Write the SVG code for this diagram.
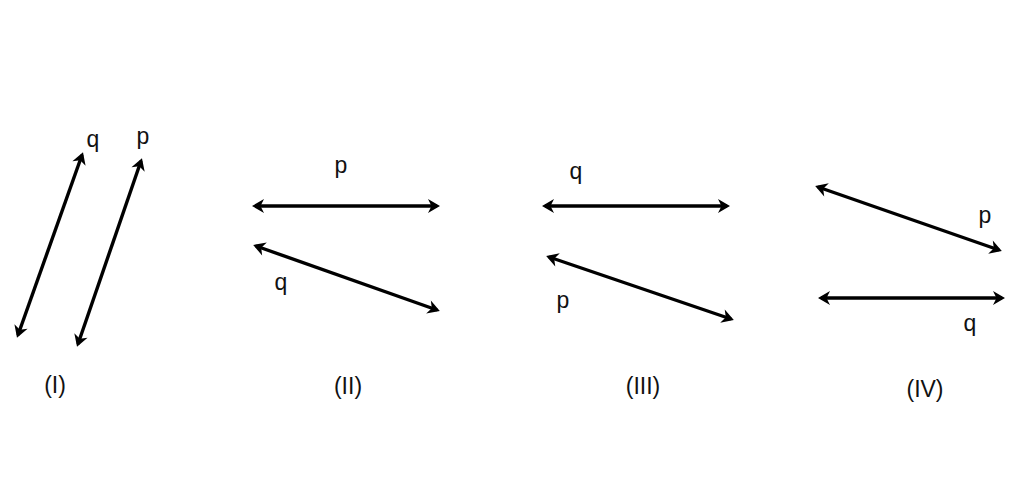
<svg xmlns="http://www.w3.org/2000/svg" width="1024" height="502" viewBox="0 0 1024 502">
<defs>
<style>
.ln{stroke:#000;stroke-width:3.4;fill:none;marker-start:url(#ah);marker-end:url(#ah)}
.lb{font-family:"Liberation Sans",Arial,sans-serif;font-size:23px;fill:#111;text-anchor:middle}
</style>
<marker id="ah" markerUnits="userSpaceOnUse" viewBox="-13 -8 14 16" markerWidth="14" markerHeight="16" refX="-3" refY="0" orient="auto-start-reverse">
<path d="M0,0 L-12,-7 L-8.5,0 L-12,7 Z" fill="#000"/>
</marker>
</defs>
<rect width="1024" height="502" fill="#fff"/>
<g id="connectors">
<line class="ln" x1="18" y1="335" x2="82" y2="155"/>
<line class="ln" x1="78" y1="344" x2="141" y2="161"/>
<line class="ln" x1="255" y1="206" x2="437" y2="206"/>
<line class="ln" x1="256" y1="246" x2="437" y2="310"/>
<line class="ln" x1="545" y1="206" x2="727" y2="206"/>
<line class="ln" x1="549" y1="257" x2="731" y2="319"/>
<line class="ln" x1="818" y1="187" x2="999" y2="250"/>
<line class="ln" x1="821" y1="298" x2="1002" y2="298"/>
</g>
<g id="panel-I">
<text class="lb" x="93" y="147">q</text>
<text class="lb" x="143" y="144">p</text>
<text class="lb" x="55" y="393">(I)</text>
</g>
<g id="panel-II">
<text class="lb" x="341" y="173">p</text>
<text class="lb" x="281" y="290">q</text>
<text class="lb" x="348" y="394">(II)</text>
</g>
<g id="panel-III">
<text class="lb" x="576" y="179">q</text>
<text class="lb" x="563" y="308">p</text>
<text class="lb" x="643" y="394">(III)</text>
</g>
<g id="panel-IV">
<text class="lb" x="985" y="223">p</text>
<text class="lb" x="970" y="331">q</text>
<text class="lb" x="925" y="397">(IV)</text>
</g>
</svg>
